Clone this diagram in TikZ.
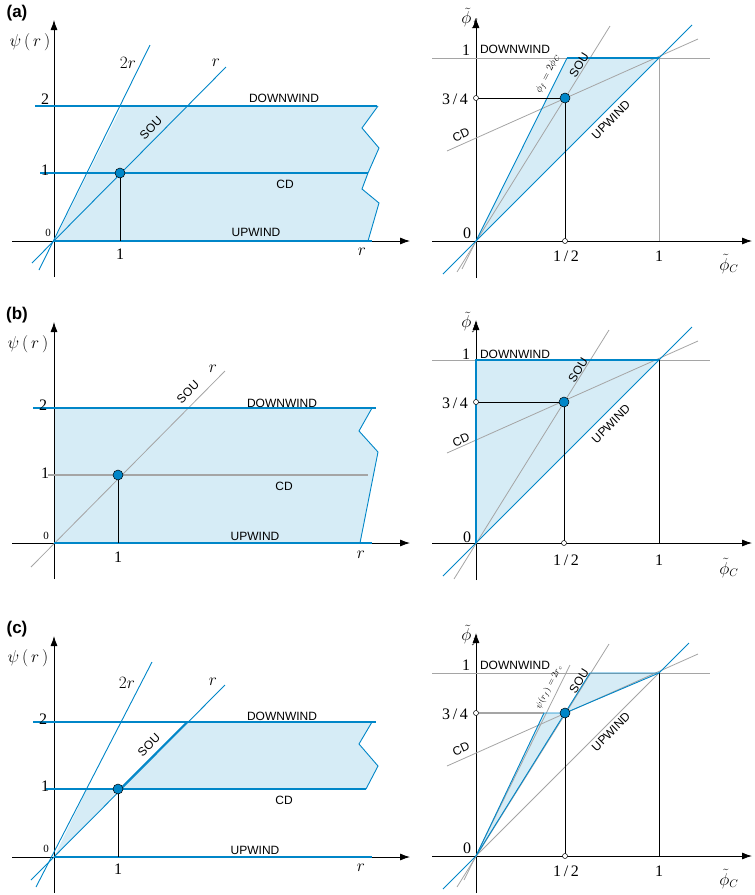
\documentclass[tikz,border=0pt]{standalone}
\usepackage{fontspec}
\setmainfont{Liberation Serif}
\setsansfont{Liberation Sans}
\usetikzlibrary{arrows.meta}
\definecolor{myblue}{RGB}{0,134,200}
\definecolor{myfill}{RGB}{214,236,246}
\definecolor{mygray}{RGB}{165,165,165}
\tikzset{
 ax/.style={line width=0.8pt,-{Latex[length=10pt,width=7pt]}},
 bl/.style={draw=myblue,line width=1.6pt},
 blt/.style={draw=myblue,line width=0.9pt},
 gr/.style={draw=mygray,line width=0.8pt},
 grk/.style={draw=mygray,line width=1.6pt},
 blk/.style={draw=black,line width=0.6pt},
 sh/.style={fill=myfill},
 lab/.style={font=\sffamily\fontsize{12}{12}\selectfont,inner sep=0},
 num/.style={font=\fontsize{16}{16}\selectfont,inner sep=0},
 pan/.style={font=\sffamily\bfseries\fontsize{17}{17}\selectfont,inner sep=0},
 dot/.style={circle,fill=myblue,draw=black,line width=0.5pt,minimum size=10pt,inner sep=0},
 odot/.style={circle,fill=white,draw=black,line width=0.5pt,minimum size=5pt,inner sep=0},
}
\begin{document}
\begin{tikzpicture}[x=1pt,y=-1pt]
\useasboundingbox (0,0) rectangle (755,895);
% ================= LEFT PANELS =================
% (a)
\begin{scope}
\fill[sh] (54,241)--(122,106)--(378,106)--(362,128)--(379,148)--(368,173)--(362,189)--(379,203)--(368,241)--cycle;
\draw[blt] (378,106)--(362,128)--(379,148)--(368,173)--(362,189)--(379,203)--(368,241);
\draw[ax] (12,241)--(410,241);
\draw[ax] (54,277)--(54,20);
\draw[blt] (39,270)--(150,45);
\draw[blt] (32,263)--(226,67);
\draw[bl] (35,106)--(377,106);
\draw[bl] (40,173)--(368,173);
\draw[bl] (54,241)--(372,241);
\draw[blk] (120,173)--(120,241);
\node[dot] (da) at (120,173) {};
\node[pan] (pa) at (17,13) {(a)};
\node[num] (ya) at (30,42) {$\psi\,(\,r\,)$};
\node[num] (t2a) at (45,99) {2};
\node[num] (t1a) at (45,170) {1};
\node[num,font=\fontsize{11}{11}\selectfont] (t0a) at (48,233) {0};
\node[num] (x1a) at (120,254) {1};
\node[num] (xra) at (362,252) {$r$};
\node[num] (l2r) at (128,63) {$2r$};
\node[num] (lr) at (216,63) {$r$};
\node[lab] (dwa) at (284,98) {DOWNWIND};
\node[lab] (cda) at (285,184) {CD};
\node[lab] (uwa) at (256,232) {UPWIND};
\node[lab,rotate=45] (soa) at (151,128) {SOU};
\end{scope}
% (b)
\begin{scope}[shift={(0,302)}]
\fill[sh] (54,241)--(54,106)--(372,106)--(359,129)--(378,150)--(360,241)--cycle;
\draw[blt] (372,106)--(359,129)--(378,150)--(360,241);
\draw[blt] (54,106)--(54,241);
\draw[ax] (12,241)--(410,241);
\draw[ax] (54,277)--(54,20);
\draw[gr] (31,265)--(225,69);
\draw[bl] (33,106)--(376,106);
\draw[grk] (48,173)--(368,173);
\draw[bl] (54,241)--(372,241);
\draw[blk] (118,173)--(118,241);
\node[dot] (db) at (118,173) {};
\node[pan] (pb) at (17,13) {(b)};
\node[num] (yb) at (28,42) {$\psi\,(\,r\,)$};
\node[num] (t2b) at (43,103) {2};
\node[num] (t1b) at (45,171) {1};
\node[num,font=\fontsize{11}{11}\selectfont] (t0b) at (46,234) {0};
\node[num] (x1b) at (118,255) {1};
\node[num] (xrb) at (361,253) {$r$};
\node[num] (lrb) at (213,67) {$r$};
\node[lab] (dwb) at (282,101) {DOWNWIND};
\node[lab] (cdb) at (284,184) {CD};
\node[lab] (uwb) at (255,234) {UPWIND};
\node[lab,rotate=45] (sob) at (188,90) {SOU};
\end{scope}
% (c)
\begin{scope}[shift={(0,616)}]
\fill[sh] (54,241)--(87,173)--(120,173)--cycle;
\fill[sh] (120,173)--(187,106)--(372,106)--(359,128)--(378,150)--(366,173)--cycle;
\draw[blt] (372,106)--(359,128)--(378,150)--(366,173);
\draw[ax] (12,241)--(410,241);
\draw[ax] (54,277)--(54,20);
\draw[blt] (36,271)--(152,46);
\draw[blt] (31,264)--(225,69);
\draw[bl] (120,173)--(187,106);
\draw[bl] (33,106)--(376,106);
\draw[bl] (46,173)--(366,173);
\draw[bl] (54,241)--(372,241);
\draw[blk] (118,173)--(118,241);
\node[dot] (dc) at (118,173) {};
\node[pan] (pc) at (17,13) {(c)};
\node[num] (yc) at (28,42) {$\psi\,(\,r\,)$};
\node[num] (t2c) at (43,103) {2};
\node[num] (t1c) at (45,170) {1};
\node[num,font=\fontsize{11}{11}\selectfont] (t0c) at (46,233) {0};
\node[num] (x1c) at (118,253) {1};
\node[num] (xrc) at (361,252) {$r$};
\node[num] (l2rc) at (127,67) {$2r$};
\node[num] (lrc) at (213,66) {$r$};
\node[lab] (dwc) at (282,100) {DOWNWIND};
\node[lab] (cdc) at (284,184) {CD};
\node[lab] (uwc) at (255,234) {UPWIND};
\node[lab,rotate=45] (soc) at (149,129) {SOU};
\end{scope}
% ================= RIGHT PANELS =================
% (a)
\begin{scope}
\fill[sh] (476,241)--(567,58)--(659,58)--cycle;
\draw[ax] (432,241)--(752,241);
\draw[ax] (476,278)--(476,18);
\draw[gr] (432,58)--(710,58);
\draw[gr] (659,58)--(659,241);
\draw[gr] (447,151)--(698,39);
\draw[gr] (457,272)--(610,26);
\draw[gr] (462,269)--(476,241);
\draw[blt] (476,241)--(567,58);
\draw[bl] (567,58)--(659,58);
\draw[blt] (443,274)--(692,25);
\draw[blk] (476,98)--(565,98)--(565,241);
\node[odot] (oya) at (476,98) {};
\node[odot] (oxa) at (565,241) {};
\node[dot] (rda) at (565,98) {};
\node[num] (rt1a) at (466,50) {1};
\node[num] (rt34a) at (455,99) {3\,/\,4};
\node[num] (rt0a) at (467,233) {0};
\node[num] (rx12a) at (566,256) {1\,/\,2};
\node[num] (rx1a) at (659,256) {1};
\node[num] (rxa) at (729,264) {$\tilde{\phi}_C$};
\node[num] (rya) at (470,18) {$\tilde{\phi}_f$};
\node[lab] (rdwa) at (515,49) {DOWNWIND};
\node[lab,rotate=24] (rcda) at (461,135) {CD};
\node[lab,rotate=58] (rsoa) at (579,65) {SOU};
\node[lab,rotate=45] (ruwa) at (611,120) {UPWIND};
\node[num,font=\fontsize{10}{10}\selectfont,rotate=63] (r2a) at (548,74) {$\phi_f = 2\phi_C$};
\end{scope}
% (b)
\begin{scope}[shift={(0,302)}]
\fill[sh] (476,241)--(476,58)--(659,58)--cycle;
\draw[ax] (432,241)--(752,241);
\draw[ax] (476,278)--(476,18);
\draw[gr] (432,58)--(710,58);
\draw[blk] (659,58)--(659,241);
\draw[gr] (447,151)--(698,39);
\draw[gr] (454,277)--(609,28);
\draw[bl] (476,241)--(476,58)--(659,58);
\draw[blt] (443,274)--(692,25);
\draw[blk] (476,100)--(564,100)--(564,241);
\node[odot] (oyb) at (476,100) {};
\node[odot] (oxb) at (564,241) {};
\node[dot] (rdb) at (564,100) {};
\node[num] (rt1b) at (466,52) {1};
\node[num] (rt34b) at (455,101) {3\,/\,4};
\node[num] (rt0b) at (467,235) {0};
\node[num] (rx12b) at (566,258) {1\,/\,2};
\node[num] (rx1b) at (659,258) {1};
\node[num] (rxb) at (729,266) {$\tilde{\phi}_C$};
\node[num] (ryb) at (470,20) {$\tilde{\phi}_f$};
\node[lab] (rdwb) at (515,52) {DOWNWIND};
\node[lab,rotate=24] (rcdb) at (461,138) {CD};
\node[lab,rotate=58] (rsob) at (578,68) {SOU};
\node[lab,rotate=45] (ruwb) at (611,122) {UPWIND};
\end{scope}
% (c)
\begin{scope}[shift={(0,615)}]
\fill[sh] (476,241)--(544,98)--(565,98)--cycle;
\fill[sh] (565,98)--(590,58)--(659,58)--cycle;
\draw[ax] (432,241)--(752,241);
\draw[ax] (476,278)--(476,18);
\draw[gr] (432,58)--(710,58);
\draw[blk] (659,58)--(659,241);
\draw[gr] (447,151)--(698,39);
\draw[gr] (457,272)--(609,29);
\draw[gr] (464,265)--(570,50);
\draw[gr] (476,241)--(659,58);
\draw[blt] (443,274)--(476,241);
\draw[blt] (659,58)--(689,28);
\draw[gr,line width=1.2pt] (476,98)--(544,98);
\draw[blt] (476,241)--(544,98)--(565,98);
\draw[blt] (476,241)--(565,98);
\draw[blt] (565,98)--(590,58)--(659,58);
\draw[blt] (565,98)--(659,58);
\draw[blk] (565,98)--(565,241);
\node[odot] (oyc) at (476,98) {};
\node[odot] (oxc) at (565,241) {};
\node[dot] (rdc) at (565,98) {};
\node[num] (rt1c) at (466,50) {1};
\node[num] (rt34c) at (455,99) {3\,/\,4};
\node[num] (rt0c) at (467,233) {0};
\node[num] (rx12c) at (566,256) {1\,/\,2};
\node[num] (rx1c) at (659,256) {1};
\node[num] (rxc) at (729,264) {$\tilde{\phi}_C$};
\node[num] (ryc) at (470,20) {$\tilde{\phi}_f$};
\node[lab] (rdwc) at (515,50) {DOWNWIND};
\node[lab,rotate=24] (rcdc) at (461,134) {CD};
\node[lab,rotate=58] (rsoc) at (579,66) {SOU};
\node[lab,rotate=45] (ruwc) at (611,117) {UPWIND};
\node[num,font=\fontsize{9}{9}\selectfont,rotate=63] (r2c) at (549,72) {$\psi(r_f)=2r_c$};
\end{scope}
\end{tikzpicture}
\end{document}
